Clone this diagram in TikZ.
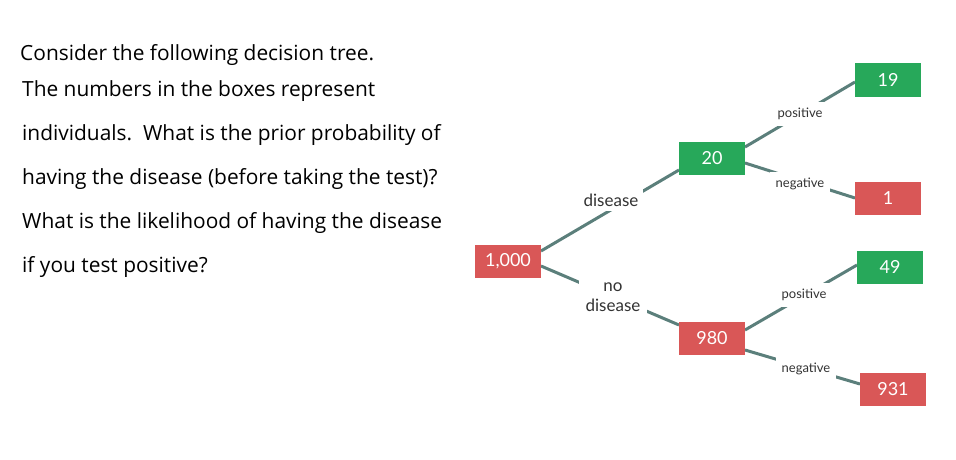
\documentclass[tikz,border=0pt]{standalone}
\usepackage{fontspec}
\setmainfont{Open Sans}
\newfontfamily\lato{Lato}
\definecolor{gbox}{HTML}{27A85A}
\definecolor{rbox}{HTML}{D95757}
\definecolor{edge}{HTML}{5B7F7B}
\tikzset{
 box/.style={minimum width=66pt,minimum height=33pt,inner sep=0pt,text=white,font=\lato\fontsize{18}{18}\selectfont},
 gb/.style={box,fill=gbox},
 rb/.style={box,fill=rbox},
 conn/.style={draw=edge,line width=3pt},
 lab/.style={fill=white,inner sep=5pt,font=\lato\fontsize{17}{20}\selectfont,align=center,text=black!80},
 slab/.style={fill=white,inner sep=4pt,font=\lato\fontsize{13}{15}\selectfont,text=black!80},
 q/.style={anchor=base west,font=\fontsize{20.9}{21}\selectfont,inner sep=0pt}
}
\begin{document}
\begin{tikzpicture}[x=1pt,y=-1pt]
\useasboundingbox (0,0) rectangle (956,460);
\node[q] (t1) at (20,60) {Consider the following decision tree.};
\node[q] (t2) at (22,96) {The numbers in the boxes represent};
\node[q] (t3) at (22,140) {individuals.\ \ What is the prior probability of};
\node[q] (t4) at (22,184) {having the disease (before taking the test)?};
\node[q] (t5) at (22,228) {What is the likelihood of having the disease};
\node[q] (t6) at (22,272) {if you test positive?};

\coordinate (c1a) at (541,251);
\coordinate (c1b) at (541,266);
\coordinate (c20a) at (745,147);
\coordinate (c20b) at (745,163);
\coordinate (c980a) at (745,330);
\coordinate (c980b) at (745,350);
\draw[conn] (c1a) -- (679,170);
\draw[conn] (c1b) -- (679,325);
\draw[conn] (c20a) -- (855,82);
\draw[conn] (c20b) -- (855,198);
\draw[conn] (c980a) -- (857,265);
\draw[conn] (c980b) -- (860,384);

\node[lab] (ld) at (611,200) {disease};
\node[lab,inner sep=7pt] (lnd) at (613,297) {no\\disease};
\node[slab,inner sep=6pt] (lp1) at (800,114) {positive};
\node[slab,inner sep=6pt] (ln1) at (800,184) {negative};
\node[slab,inner sep=6pt] (lp2) at (804,295) {positive};
\node[slab,inner sep=6pt] (ln2) at (806,369) {negative};

\node[rb] (n1000) at (508,261) {1,000};
\node[gb] (n20) at (712,158) {20};
\node[rb] (n980) at (712,338) {980};
\node[gb] (n19) at (888,80) {19};
\node[rb] (n1) at (888,198) {1};
\node[gb] (n49) at (890,267) {49};
\node[rb] (n931) at (893,389) {931};
\end{tikzpicture}
\end{document}
